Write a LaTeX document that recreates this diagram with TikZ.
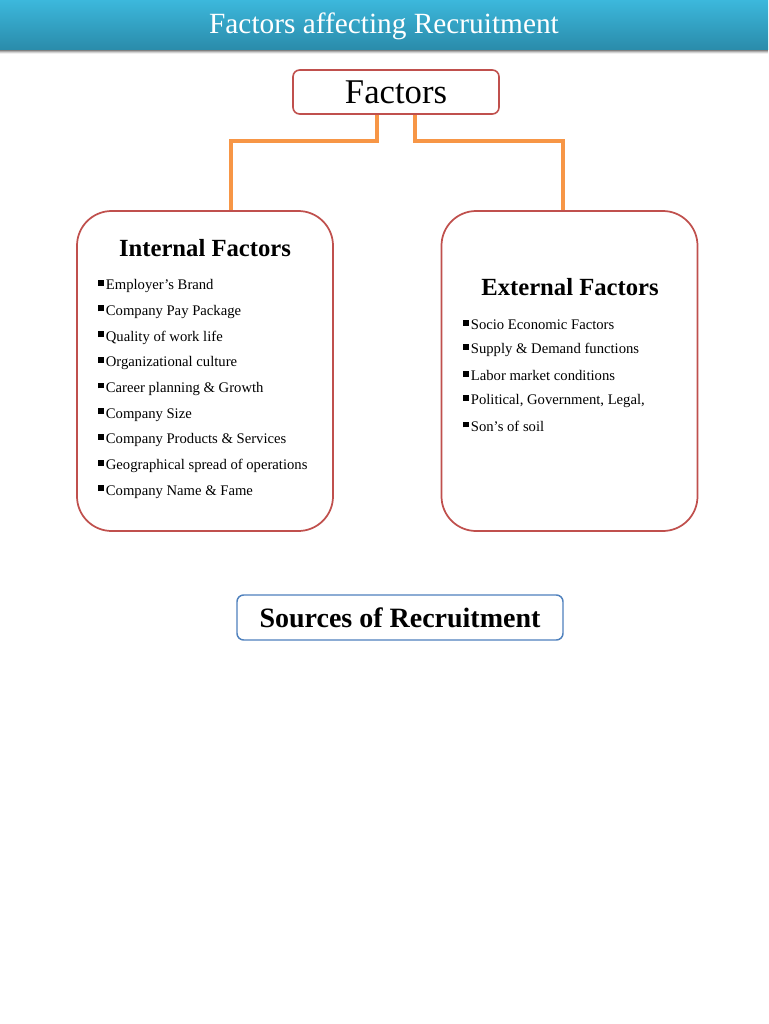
\documentclass[tikz,border=0pt]{standalone}
\usepackage{fontspec}
\setmainfont{Liberation Serif}
\usepackage{tikz}
\usetikzlibrary{positioning}

\definecolor{boxred}{HTML}{C0504D}
\definecolor{linkorange}{HTML}{F79646}
\definecolor{boxblue}{HTML}{4F81BD}
\definecolor{bartop}{HTML}{3CB8DC}
\definecolor{barbot}{HTML}{2A8BAA}

\newcommand{\sqbul}{\rule[0.28em]{0.4em}{0.4em}\hspace{0.12em}}

\tikzset{
    topbox/.style={draw=boxred, line width=1.2pt, rounded corners=5pt, fill=white,
        minimum width=154.5pt, minimum height=33pt, font=\fontsize{26}{29}\selectfont},
    bigbox/.style={draw=boxred, line width=1.3pt, rounded corners=26pt, fill=white,
        minimum width=192pt, minimum height=240pt},
    heading/.style={font=\bfseries\fontsize{18.5}{21}\selectfont},
    item/.style={anchor=west, inner sep=0pt, font=\fontsize{11}{13}\selectfont},
    link/.style={draw=linkorange, line width=2.5pt},
    srcbox/.style={draw=boxblue, line width=1.1pt, rounded corners=5pt, fill=white,
        minimum width=244.5pt, minimum height=33.75pt, font=\bfseries\fontsize{21}{24}\selectfont}
}

\begin{document}
\begin{tikzpicture}[x=0.75pt,y=-0.75pt]
    \useasboundingbox (0,0) rectangle (768,1024);
    \fill[white] (0,0) rectangle (768,1024);

    % title bar
    \foreach \s/\o in {1/0.25,2/0.18,3/0.12,4/0.06}
        \fill[black, opacity=\o] (0,50) rectangle (768,50+\s);
    \shade[top color=bartop, bottom color=barbot] (0,0) rectangle (768,50);
    \node[text=white, font=\fontsize{22}{26}\selectfont] (title) at (384,26) {Factors affecting Recruitment};

    % boxes
    \node[topbox] (fac) at (396,92) {Factors};
    \node[bigbox] (int) at (205,371) {};
    \node[bigbox] (ext) at (569.5,371) {};
    \node[srcbox] (src) at (400,617.5) {Sources of Recruitment};

    % connectors
    \draw[link] (fac.south -| 377,0) -- (377,141) -| (int.north -| 231,0);
    \draw[link] (fac.south -| 415,0) -- (415,141) -| (ext.north -| 563,0);

    \node[heading] (intHead) at (205,248) {Internal Factors};
    \node[heading] (extHead) at (570,287) {External Factors};

    \foreach \t [count=\i] in {Employer's Brand, Company Pay Package, Quality of work life,
        Organizational culture, Career planning \& Growth, Company Size,
        Company Products \& Services, Geographical spread of operations, Company Name \& Fame}
        \node[item] (intItem\i) at (98,260.5+25.7*\i) {\sqbul\t};

    \foreach \t [count=\i] in {Socio Economic Factors, Supply \& Demand functions,
        Labor market conditions, {Political, Government, Legal,}, Son's of soil}
        \node[item] (extItem\i) at (463,299.5+25.4*\i) {\sqbul\t};
\end{tikzpicture}
\end{document}
